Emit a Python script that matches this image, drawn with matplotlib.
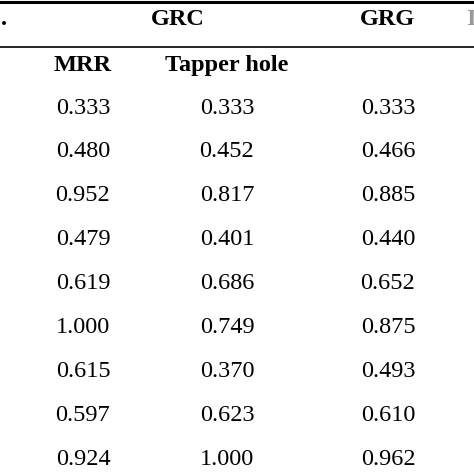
import matplotlib
matplotlib.use("Agg")
import matplotlib.pyplot as plt

mrr = ["0.333","0.480","0.952","0.479","0.619","1.000","0.615","0.597","0.924"]
tapper = ["0.333","0.452","0.817","0.401","0.686","0.749","0.370","0.623","1.000"]
grg = ["0.333","0.466","0.885","0.440","0.652","0.875","0.493","0.610","0.962"]

fig = plt.figure(figsize=(4.74,4.74), dpi=100)
ax = fig.add_axes([0,0,1,1])
ax.set_xlim(0,474); ax.set_ylim(474,0); ax.axis("off")
fam = "Liberation Serif"
fs = 17.5
ax.plot([0,474],[2,2],color="black",lw=2.2)
ax.plot([0,474],[47,47],color="black",lw=1.2)
ax.text(1,19,".",fontsize=fs,family=fam,weight="bold",va="center",ha="left")
ax.text(178,19,"GRC",fontsize=fs,family=fam,weight="bold",va="center",ha="center")
ax.text(388,19,"GRG",fontsize=fs,family=fam,weight="bold",va="center",ha="center")
ax.text(466,19,"I",fontsize=fs,family=fam,weight="bold",va="center",ha="left",color="#999999")
ax.text(83,65,"MRR",fontsize=fs,family=fam,weight="bold",va="center",ha="center")
ax.text(227,65,"Tapper hole",fontsize=fs,family=fam,weight="bold",va="center",ha="center")
for i,(a,b,c) in enumerate(zip(mrr,tapper,grg)):
    y = 108 + 43.9*i
    ax.text(83,y,a,fontsize=fs,family=fam,va="center",ha="center")
    ax.text(227,y,b,fontsize=fs,family=fam,va="center",ha="center")
    ax.text(388,y,c,fontsize=fs,family=fam,va="center",ha="center")
fig.savefig("out.png", dpi=100)
